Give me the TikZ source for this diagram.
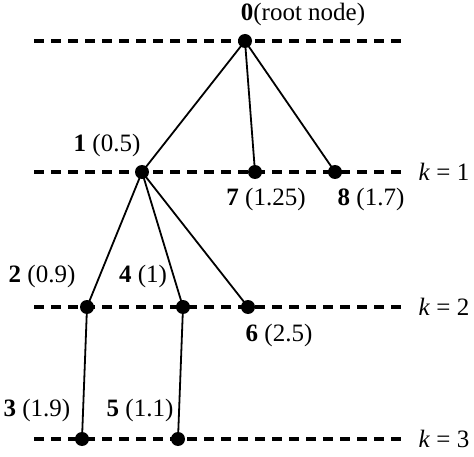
\documentclass[tikz,border=0pt]{standalone}
\usepackage{fontspec}
\setmainfont{Liberation Serif}
\tikzset{
  dot/.style={circle, fill=black, inner sep=0pt, minimum size=14pt},
  lvl/.style={line width=3.2pt, dash pattern=on 10pt off 7pt},
  edge/.style={line width=1.8pt},
  lab/.style={font=\fontsize{25}{28}\selectfont, inner sep=0pt}
}
\begin{document}
\begin{tikzpicture}[x=1pt, y=-1pt]
  \useasboundingbox (0,0) rectangle (474,457);
  % level lines
  \coordinate (l0a) at (34,41);  \coordinate (l0b) at (404,41);
  \coordinate (l1a) at (34,172); \coordinate (l1b) at (404,172);
  \coordinate (l2a) at (34,307); \coordinate (l2b) at (404,307);
  \coordinate (l3a) at (34,439); \coordinate (l3b) at (404,439);
  \foreach \i in {0,...,3} \draw[lvl] (l\i a) -- (l\i b);
  \node[lab] (k1) at (444,172) {\textit{k} = 1};
  \node[lab] (k2) at (444,307) {\textit{k} = 2};
  \node[lab] (k3) at (444,439) {\textit{k} = 3};

  % tree nodes
  \node[dot] (n0) at (245,41) {};
  \node[dot] (n1) at (142,172) {};
  \node[dot] (n7) at (255,172) {};
  \node[dot] (n8) at (335,172) {};
  \node[dot] (n2) at (87,307) {};
  \node[dot] (n4) at (183,307) {};
  \node[dot] (n6) at (248,307) {};
  \node[dot] (n3) at (82,439) {};
  \node[dot] (n5) at (178,439) {};

  \foreach \a/\b in {n0/n1, n0/n7, n0/n8, n1/n2, n1/n4, n1/n6, n2/n3, n4/n5}
    \draw[edge] (\a.center) -- (\b.center);

  % labels
  \node[lab] (t0) at (303,14) {\textbf{0}(root node)};
  \node[lab] (t1) at (107,145) {\textbf{1} (0.5)};
  \node[lab] (t7) at (266,199) {\textbf{7} (1.25)};
  \node[lab] (t8) at (371,199) {\textbf{8} (1.7)};
  \node[lab] (t2) at (42,276) {\textbf{2} (0.9)};
  \node[lab] (t4) at (143,276) {\textbf{4} (1)};
  \node[lab] (t6) at (279,335) {\textbf{6} (2.5)};
  \node[lab] (t3) at (37,410) {\textbf{3} (1.9)};
  \node[lab] (t5) at (140,410) {\textbf{5} (1.1)};
\end{tikzpicture}
\end{document}
